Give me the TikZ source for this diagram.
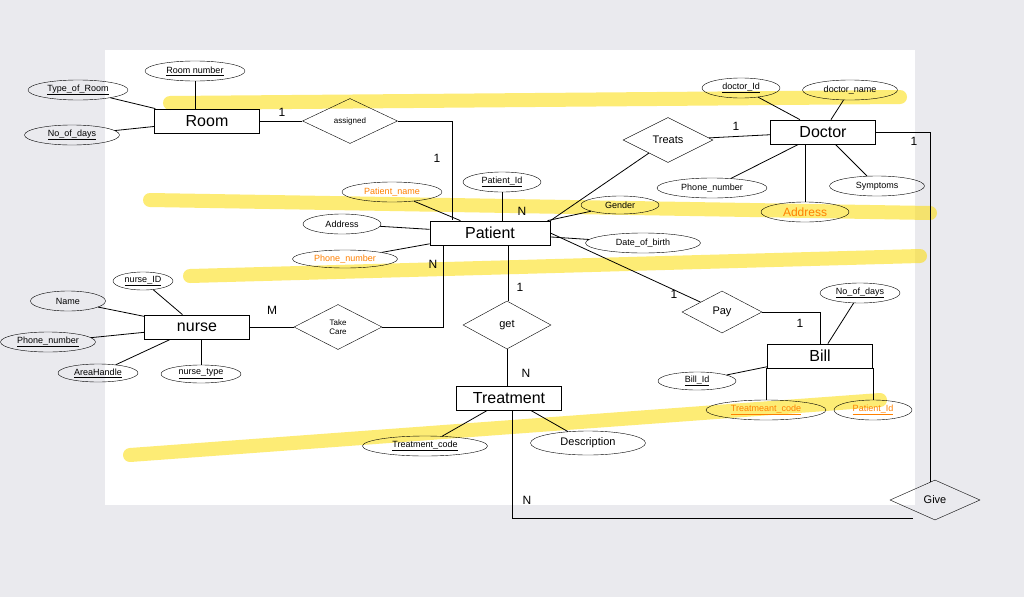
\documentclass[tikz,border=0pt]{standalone}
\usepackage{fontspec}
\setmainfont{Liberation Sans}
\usetikzlibrary{shapes.geometric}
\begin{document}
\begin{tikzpicture}[x=1pt,y=-1pt,
 ent/.style={draw,thick,minimum width=#1,minimum height=24pt,font=\fontsize{16}{16}\selectfont,inner sep=1pt},
 att/.style={draw,ellipse,minimum width=#1,minimum height=20pt,font=\fontsize{9}{9}\selectfont,inner sep=1pt},
 rel/.style={draw,diamond,aspect=2,minimum width=#1,minimum height=45pt,font=\fontsize{11}{11}\selectfont,inner sep=0pt,align=center},
 ln/.style={draw,thick},
 card/.style={font=\fontsize{12}{12}\selectfont},
 hl/.style={line width=14pt,color=yellow!80!orange,opacity=0.55,line cap=round}]
\fill[blue!12!gray!15!white] (0,0) rectangle (1024,597);
\fill[white] (105,50) rectangle (915,505);
\useasboundingbox (0,0) rectangle (1024,597);
\draw[hl] (170,103) -- (900,97);
\draw[hl] (150,200) -- (930,213);
\draw[hl] (190,276) -- (920,256);
\draw[hl] (130,455) -- (880,400);
% entities
\node[ent=105pt] (room) at (207,121) {Room};
\node[ent=120pt] (patient) at (490,233) {Patient};
\node[ent=105pt] (doctor) at (823,132) {Doctor};
\node[ent=105pt] (bill) at (820,356) {Bill};
\node[ent=105pt] (treat) at (509,398) {Treatment};
\node[ent=105pt] (nurse) at (197,327) {nurse};
% relationships
\node[rel=95pt] (assigned) at (350,121) {\footnotesize assigned};
\node[rel=90pt] (treats) at (668,140) {Treats};
\node[rel=80pt,minimum height=42pt] (pay) at (722,312) {Pay};
\node[rel=88pt,minimum height=48pt] (get) at (507,325) {get};
\node[rel=88pt] (take) at (338,327) {\footnotesize Take\\[-2pt]\footnotesize Care};
\node[rel=90pt,minimum height=40pt] (give) at (935,500) {Give};
% attributes
\node[att=100pt] (rn) at (195,71) {\underline{Room number}};
\node[att=100pt] (tr) at (78,90) {\underline{Type\_of\_Room}};
\node[att=95pt] (nd) at (72,135) {\underline{No\_of\_days}};
\node[att=78pt] (pid) at (502,182) {\underline{Patient\_Id}};
\node[att=100pt,text=orange] (pn) at (392,192) {Patient\_name};
\node[att=78pt] (addr) at (342,224) {Address};
\node[att=105pt,minimum height=18pt,text=orange] (pph) at (345,259) {Phone\_number};
\node[att=78pt,minimum height=18pt] (gen) at (620,205) {Gender};
\node[att=115pt] (dob) at (643,243) {Date\_of\_birth};
\node[att=78pt] (did) at (741,88) {\underline{doctor\_Id}};
\node[att=95pt] (dn) at (850,90) {doctor\_name};
\node[att=110pt] (dph) at (712,188) {Phone\_number};
\node[att=95pt] (sym) at (877,186) {Symptoms};
\node[att=88pt,text=orange,font=\fontsize{12}{12}\selectfont] (daddr) at (805,212) {Address};
\node[att=80pt] (bnd) at (860,293) {\underline{No\_of\_days}};
\node[att=78pt,minimum height=18pt] (bid) at (697,381) {\underline{Bill\_Id}};
\node[att=120pt,text=orange] (btc) at (766,410) {\underline{Treatmeant\_code}};
\node[att=78pt,text=orange] (bpid) at (873,410) {\underline{Patient\_Id}};
\node[att=125pt] (tc) at (425,446) {\underline{Treatment\_code}};
\node[att=115pt,minimum height=24pt,font=\fontsize{11}{11}\selectfont] (desc) at (588,443) {Description};
\node[att=60pt,minimum height=18pt] (nid) at (143,281) {\underline{nurse\_ID}};
\node[att=75pt] (nname) at (68,301) {Name};
\node[att=95pt] (nph) at (48,342) {\underline{Phone\_number}};
\node[att=80pt,minimum height=18pt] (area) at (98,373) {\underline{AreaHandle}};
\node[att=80pt,minimum height=18pt] (ntype) at (201,374) {\underline{nurse\_type}};
% attribute links
\draw[ln] (rn) -- (rn|-room.north);
\draw[ln] (tr) -- (room); \draw[ln] (nd) -- (room);
\draw[ln] (pid) -- (pid|-patient.north);
\draw[ln] (pn) -- (patient); \draw[ln] (addr) -- (patient);
\draw[ln] (pph) -- (patient); \draw[ln] (gen) -- (patient); \draw[ln] (dob) -- (patient);
\draw[ln] (did) -- (doctor); \draw[ln] (dn) -- (doctor); \draw[ln] (dph) -- (doctor);
\draw[ln] (sym) -- (doctor); \draw[ln] (daddr) -- (daddr|-doctor.south);
\draw[ln] (bnd) -- (bill); \draw[ln] (bid) -- (bill);
\draw[ln] (btc) -- (btc|-bill.south); \draw[ln] (bpid) -- (bpid|-bill.south);
\draw[ln] (tc) -- (treat); \draw[ln] (desc) -- (treat);
\draw[ln] (nid) -- (nurse); \draw[ln] (nname) -- (nurse); \draw[ln] (nph) -- (nurse);
\draw[ln] (area) -- (nurse); \draw[ln] (ntype) -- (ntype|-nurse.south);
% relationship links
\draw[ln] (room) -- (assigned);
\draw[ln] (assigned.east) -| (452,220);
\draw[ln] (patient.north east) -- (treats);
\draw[ln] (treats) -- (doctor);
\draw[ln] (patient.east) -- (pay);
\draw[ln] (pay.east) -| (bill.north);
\draw[ln] (patient.south) ++(18,0) coordinate (ps) -- (ps|-get.north);
\draw[ln] (get.south) -- (get.south|-treat.north);
\draw[ln] (nurse) -- (take);
\draw[ln] (take.east) -| (443,245);
\draw[ln] (doctor.east) -| (930,482);
\draw[ln] (treat.south) ++(3,0) coordinate (ts) -- (512,518) -- (913,518);
% cardinalities
\node[card] at (282,112) {1};
\node[card] at (437,158) {1};
\node[card] at (522,211) {N};
\node[card] at (736,126) {1};
\node[card] at (914,141) {1};
\node[card] at (674,294) {1};
\node[card] at (800,323) {1};
\node[card] at (520,287) {1};
\node[card] at (526,373) {N};
\node[card] at (527,500) {N};
\node[card] at (272,310) {M};
\node[card] at (433,264) {N};
\end{tikzpicture}
\end{document}
